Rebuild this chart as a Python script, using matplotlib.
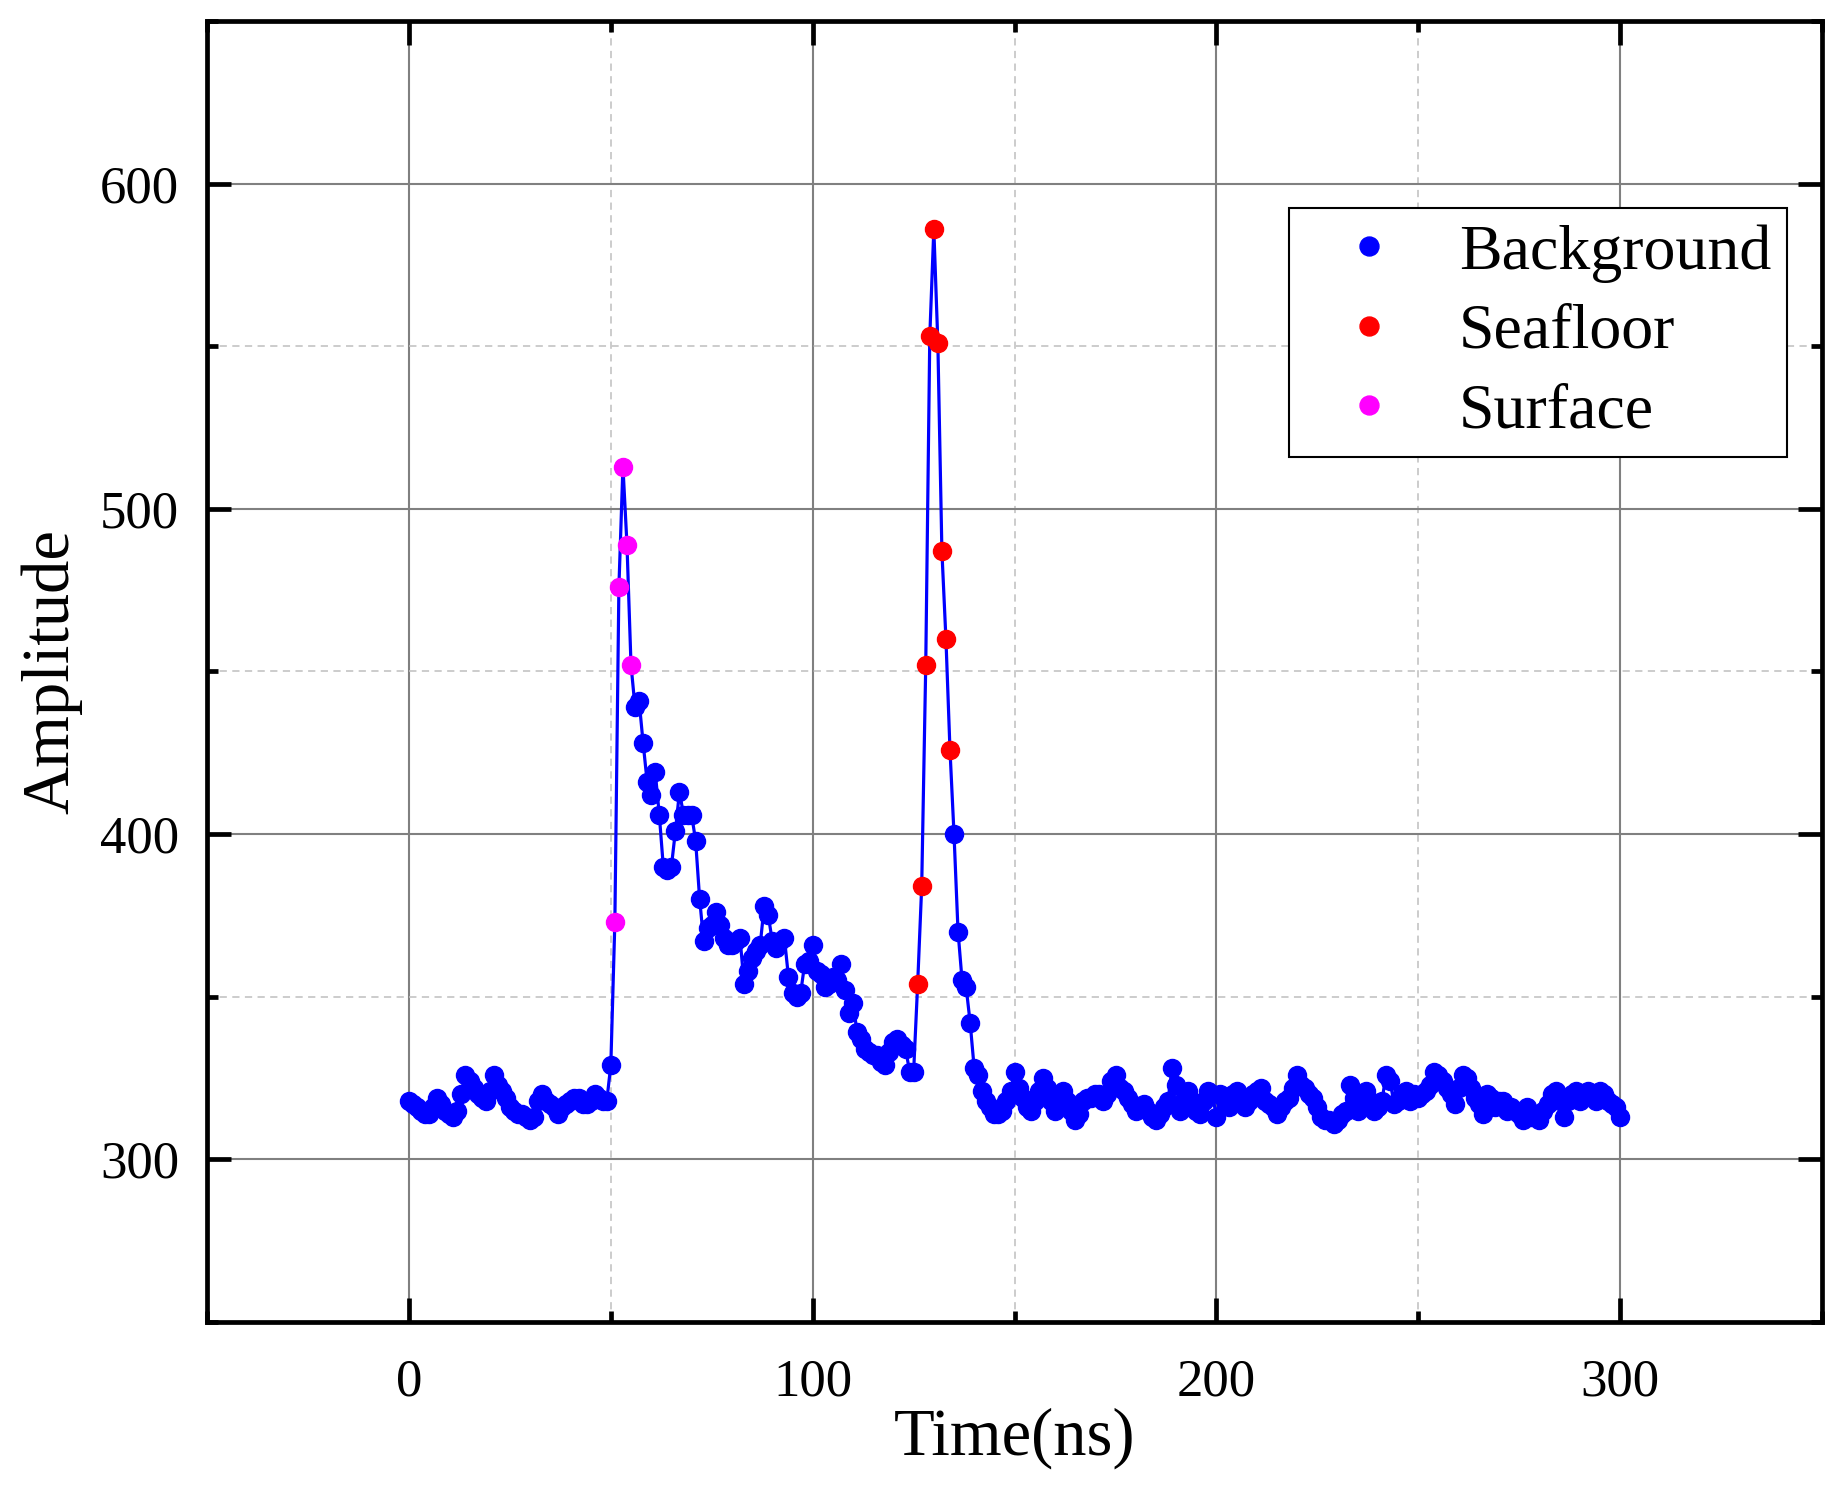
import matplotlib
matplotlib.use("Agg")
import matplotlib.pyplot as plt
from matplotlib.ticker import MultipleLocator

plt.rcParams["font.family"] = ["Liberation Serif", "DejaVu Serif"]

# one sample per ns, 0..300
time = list(range(301))

amplitude = [
    318, 317, 316, 315, 314, 314, 316, 319, 317, 315,
    314, 313, 315, 320, 326, 324, 322, 320, 319, 318,
    321, 326, 323, 321, 319, 316, 315, 314, 314, 313,
    312, 313, 318, 320, 318, 317, 316, 314, 316, 317,
    318, 319, 319, 317, 317, 318, 320, 319, 318, 318,
    329, 373, 476, 513, 489, 452, 439, 441, 428, 416,
    412, 419, 406, 390, 389, 390, 401, 413, 406, 406,
    406, 398, 380, 367, 371, 372, 376, 372, 368, 366,
    366, 367, 368, 354, 358, 362, 364, 366, 378, 375,
    367, 365, 367, 368, 356, 351, 350, 351, 360, 361,
    366, 358, 357, 353, 354, 356, 355, 360, 352, 345,
    348, 339, 337, 334, 333, 332, 332, 330, 329, 333,
    336, 337, 335, 334, 327, 327, 354, 384, 452, 553,
    586, 551, 487, 460, 426, 400, 370, 355, 353, 342,
    328, 326, 321, 318, 316, 314, 314, 315, 318, 321,
    327, 322, 319, 316, 315, 318, 321, 325, 322, 318,
    315, 317, 321, 318, 315, 312, 314, 318, 319, 319,
    320, 320, 318, 320, 324, 326, 322, 321, 319, 317,
    315, 316, 317, 315, 313, 312, 314, 316, 318, 328,
    323, 315, 318, 321, 318, 315, 314, 318, 321, 320,
    313, 320, 318, 316, 320, 321, 318, 316, 318, 320,
    321, 322, 318, 317, 316, 314, 316, 318, 319, 322,
    326, 323, 322, 320, 319, 316, 313, 312, 312, 311,
    312, 314, 315, 323, 319, 315, 318, 321, 318, 315,
    316, 318, 326, 324, 317, 318, 320, 321, 318, 320,
    319, 320, 321, 323, 327, 326, 324, 322, 320, 317,
    322, 326, 325, 322, 319, 317, 314, 320, 319, 316,
    318, 318, 315, 316, 315, 314, 312, 316, 313, 314,
    312, 315, 317, 320, 321, 318, 313, 318, 320, 321,
    318, 320, 321, 320, 318, 321, 320, 318, 317, 316,
    313,
]

surface_time = [51, 52, 53, 54, 55]
seafloor_time = [126, 127, 128, 129, 130, 131, 132, 133, 134]

labelled = set(surface_time) | set(seafloor_time)
bg_t = [t for t in time if t not in labelled]
bg_a = [amplitude[t] for t in bg_t]
sf_a = [amplitude[t] for t in seafloor_time]
su_a = [amplitude[t] for t in surface_time]

fig = plt.figure(figsize=(18.44, 15.12), dpi=100)
ax = fig.add_axes([0.1123, 0.1257, 0.8758, 0.8604])

ax.plot(time, amplitude, color="blue", lw=2.3, zorder=2)
ax.plot(bg_t, bg_a, "o", color="blue", ms=13, ls="none", label="Background", zorder=3)
ax.plot(seafloor_time, sf_a, "o", color="red", ms=13, ls="none", label="Seafloor", zorder=4)
ax.plot(surface_time, su_a, "o", color="magenta", ms=13, ls="none", label="Surface", zorder=4)

ax.set_xlim(-50, 350)
ax.set_ylim(250, 650)
ax.xaxis.set_major_locator(MultipleLocator(100))
ax.xaxis.set_minor_locator(MultipleLocator(50))
ax.yaxis.set_major_locator(MultipleLocator(100))
ax.yaxis.set_minor_locator(MultipleLocator(50))

ax.set_axisbelow(True)
ax.grid(which="major", color="#808080", lw=1.5, ls="-")
ax.grid(which="minor", color="#c8c8c8", lw=1.3, ls=(0, (4, 3)))

ax.tick_params(which="both", direction="in", top=True, right=True, width=3.4)
ax.tick_params(which="major", length=17, labelsize=38)
ax.tick_params(which="minor", length=8)
ax.tick_params(axis="x", pad=26)
ax.tick_params(axis="y", pad=20)
for s in ax.spines.values():
    s.set_linewidth(3.4)

ax.set_xlabel("Time(ns)", fontsize=48)
ax.set_ylabel("Amplitude", fontsize=48)
ax.xaxis.set_label_coords(0.5, -0.066)
ax.yaxis.set_label_coords(-0.077, 0.5)

leg = ax.legend(loc="upper right", bbox_to_anchor=(1787 / 1844, 1 - 208 / 1512),
                bbox_transform=fig.transFigure, borderaxespad=0, fontsize=46,
                fancybox=False, framealpha=1, edgecolor="black", markerscale=1.05,
                handlelength=2.0, handletextpad=0.4, labelspacing=0.32, borderpad=0.25)
leg.get_frame().set_linewidth(1.5)

fig.savefig("out.png", dpi=100)
